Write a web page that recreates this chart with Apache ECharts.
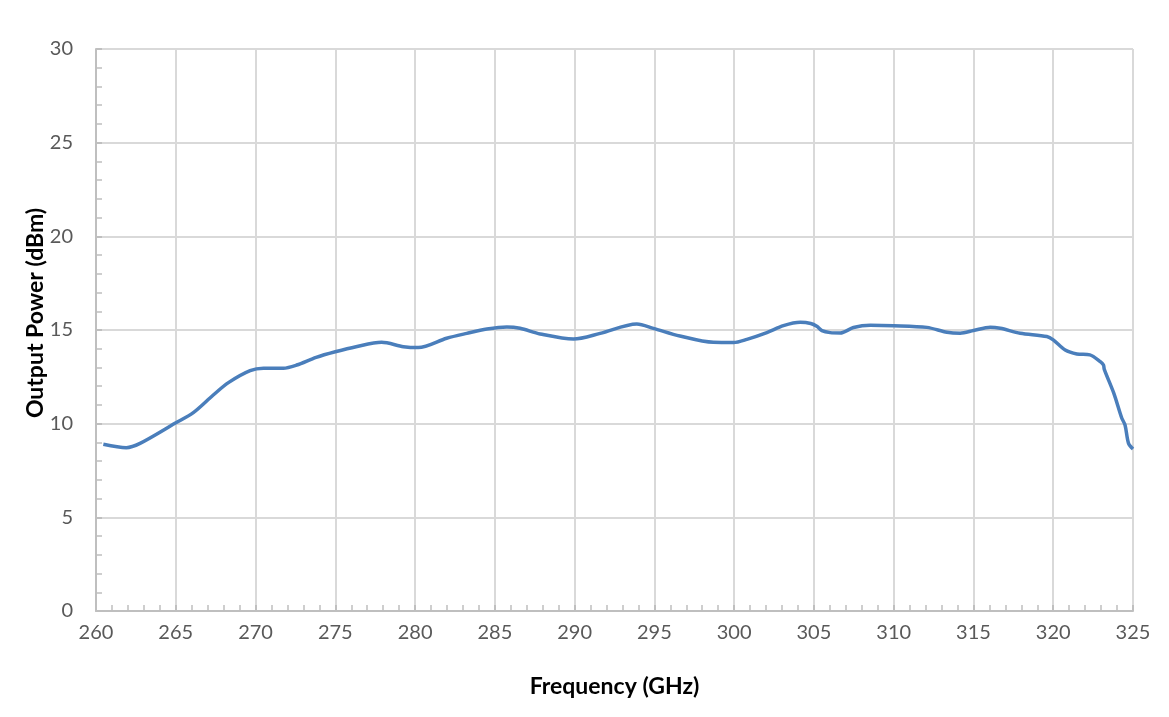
<!DOCTYPE html>
<html>
<head>
<meta charset="utf-8">
<script src="https://cdn.jsdelivr.net/npm/echarts@6/dist/echarts.min.js"></script>
<style>html,body{margin:0;padding:0;background:#fff}#c{width:1169px;height:717px}</style>
</head>
<body>
<div id="c"></div>
<script>
var freq = [260.46,261.9,262.76,264.95,266.1,267.35,268.3,269.66,270.5,271.74,272.58,273.8,275.0,276.3,277.9,279.27,280.2,281.98,283.24,284.5,285.75,286.58,287.84,289.93,291.6,293.9,294.94,296.6,298.7,299.96,300.8,302.05,303.09,304.14,304.8,305.18,305.5,306.02,306.65,307.48,308.53,310.0,312.08,313.34,314.17,315.0,316.05,316.68,317.93,319.6,320.0,320.75,321.48,322.3,322.95,323.15,323.2,323.8,324.3,324.5,324.72,325.0];
var power = [8.9,8.72,8.95,10.02,10.59,11.53,12.19,12.83,12.96,12.96,13.13,13.54,13.84,14.11,14.34,14.11,14.06,14.56,14.82,15.05,15.16,15.09,14.79,14.52,14.82,15.32,15.09,14.68,14.34,14.33,14.5,14.86,15.23,15.41,15.35,15.2,14.97,14.86,14.84,15.13,15.25,15.23,15.14,14.88,14.83,14.97,15.15,15.09,14.83,14.65,14.47,13.93,13.72,13.67,13.31,13.13,12.9,11.62,10.29,9.93,8.95,8.65];
var xTicks = [260,265,270,275,280,285,290,295,300,305,310,315,320,325];
var yTicks = [0,5,10,15,20,25,30];

var pts = freq.map(function(f,i){return [f, power[i]];});
var chart = echarts.init(document.getElementById('c'));
chart.setOption({
  animation:false,
  grid:{left:96,right:36,top:49,bottom:106},
  xAxis:{
    type:'value', min:xTicks[0], max:xTicks[xTicks.length-1], interval:5,
    name:'Frequency (GHz)', nameLocation:'middle', nameGap:64,
    nameTextStyle:{fontFamily:'Lato',fontWeight:'bold',fontSize:23,color:'#000'},
    axisLine:{show:true,lineStyle:{color:'#bfbfbf',width:2}},
    axisTick:{show:true,inside:true,length:6,lineStyle:{color:'#bfbfbf',width:2}},
    minorTick:{show:true,splitNumber:5,length:6,lineStyle:{color:'#bfbfbf',width:1.5}},
    axisLabel:{fontFamily:'Lato',fontSize:20,color:'#595959',margin:12},
    splitLine:{show:true,lineStyle:{color:'#d9d9d9',width:2}}
  },
  yAxis:{
    type:'value', min:yTicks[0], max:yTicks[yTicks.length-1], interval:5,
    name:'Output Power (dBm)', nameLocation:'middle', nameGap:49, nameMoveOverlap:false,
    nameTextStyle:{fontFamily:'Lato',fontWeight:'bold',fontSize:23,color:'#000',padding:[0,0,0,34]},
    axisLine:{show:true,lineStyle:{color:'#bfbfbf',width:2}},
    axisTick:{show:true,inside:true,length:6,lineStyle:{color:'#bfbfbf',width:2}},
    minorTick:{show:true,splitNumber:5,length:6,lineStyle:{color:'#bfbfbf',width:1.5}},
    axisLabel:{fontFamily:'Lato',fontSize:20,color:'#595959',margin:23},
    splitLine:{show:true,lineStyle:{color:'#d9d9d9',width:2}}
  },
  series:[{
    type:'line', data:pts, smooth:0.3, showSymbol:false,
    lineStyle:{color:'#4a7ebb',width:3.5}
  }]
});
</script>
</body>
</html>
